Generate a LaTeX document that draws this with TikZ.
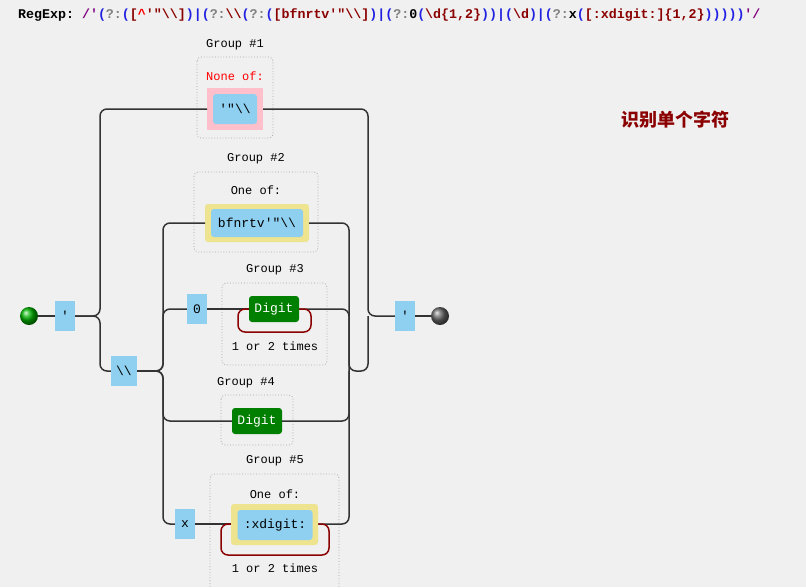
\documentclass[tikz,border=0pt]{standalone}
\usepackage{fontspec}
\setmonofont{Liberation Mono}
\newfontfamily\cjk{Noto Sans CJK SC}
\usetikzlibrary{shapes.misc}
\definecolor{lb}{HTML}{8FD0F0}
\definecolor{dg}{HTML}{007F00}
\definecolor{yl}{HTML}{EEE38E}
\definecolor{pk}{HTML}{FFC0CB}
\definecolor{dr}{HTML}{8B0000}
\definecolor{bg}{HTML}{F0F0F0}
\definecolor{pb}{HTML}{2020E0}
\begin{document}
\begin{tikzpicture}[x=1pt,y=-1pt,font=\ttfamily\fontsize{13}{15}\selectfont,
  lit/.style={fill=lb,minimum height=30pt,inner sep=1pt},
  term/.style={fill=dg,text=white,rounded corners=3pt,minimum height=26pt,inner sep=3pt},
  grp/.style={draw=gray!70,dotted,thick,rounded corners=4pt},
  lbl/.style={font=\ttfamily\fontsize{12}{14}\selectfont},
  wire/.style={draw=black!80,line width=1.5pt,rounded corners=7pt},
  loop/.style={draw=dr,line width=1.5pt,rounded corners=7pt}]
\fill[bg] (0,0) rectangle (806,587);
\useasboundingbox (0,0) rectangle (806,587);
% title
\node[anchor=west,inner sep=0,font=\ttfamily\bfseries\fontsize{13.3}{15}\selectfont] (title) at (18,15) {RegExp: \color{violet}/'\color{pb}(\color{gray}?:\color{pb}(\color{dr}[\color{red}\textasciicircum\color{dr}'"\textbackslash\textbackslash]\color{pb})|(\color{gray}?:\color{dr}\textbackslash\textbackslash\color{pb}(\color{gray}?:\color{pb}(\color{dr}[bfnrtv'"\textbackslash\textbackslash]\color{pb})|(\color{gray}?:\color{black}0\color{pb}(\color{dr}\textbackslash d\{1,2\}\color{pb}))|(\color{dr}\textbackslash d\color{pb})|(\color{gray}?:\color{black}x\color{pb}(\color{dr}[:xdigit:]\{1,2\}\color{pb})))))\color{violet}'/};
\node[text=dr,font=\cjk\bfseries\fontsize{18}{20}\selectfont] (cn) at (675,120) {识别单个字符};
% groups
\draw[grp] (197,57) rectangle (273,138);
\node[lbl] (g1) at (235,45) {Group \#1};
\node[lbl,text=red] (none) at (235,76) {None of:};
\fill[pk] (207,88) rectangle (263,130);
\node[lit,minimum width=44pt,rounded corners=3pt] (c1) at (235,109) {'"\textbackslash\textbackslash};
\draw[grp] (194,172) rectangle (318,252);
\node[lbl] (g2) at (256,159) {Group \#2};
\node[lbl] (o2) at (256,190) {One of:};
\fill[yl,rounded corners=3pt] (205,204) rectangle (309,242);
\node[lit,minimum width=92pt,minimum height=28pt,rounded corners=3pt] (c2) at (257,223) {bfnrtv'"\textbackslash\textbackslash};
\draw[grp] (222,283) rectangle (327,365);
\node[lbl] (g3) at (275,270) {Group \#3};
\node[lbl] (t3) at (275,346) {1 or 2 times};
\draw[grp] (221,395) rectangle (293,445);
\node[lbl] (g4) at (246,383) {Group \#4};
\draw[grp] (210,595) |- (339,474) -- (339,595);
\node[lbl] (g5) at (275,461) {Group \#5};
\node[lbl] (o5) at (275,494) {One of:};
\node[lbl] (t5) at (275,568) {1 or 2 times};
% literals
\shade[ball color=green!70!black] (29,316) circle (9);
\node[circle,minimum size=18pt,inner sep=0] (s) at (29,316) {};
\shade[ball color=black!60] (440,316) circle (9);
\node[circle,minimum size=18pt,inner sep=0] (e) at (440,316) {};
\node[lit,minimum width=20pt] (q1) at (65,316) {'};
\node[lit,minimum width=20pt] (q2) at (405,316) {'};
\node[lit,minimum width=26pt] (bs) at (124,371) {\textbackslash\textbackslash};
\node[lit,minimum width=20pt] (z) at (197,309) {0};
\node[lit,minimum width=20pt] (x) at (185,524) {x};
% wires
\draw[wire] (s) -- (q1);
\draw[wire] (q1.east) -- (100,316) -- (100,109) -- (207,109);
\draw[wire] (263,109) -- (368,109) -- (368,316) -- (q2.west);
\draw[wire] (q2) -- (e);
\draw[wire] (q1.east) -- (100,316) -- (100,371) -- (bs.west);
\draw[wire] (bs.east) -- (163,371) -- (163,223) -- (205,223);
\draw[wire] (bs.east) -- (163,371) -- (163,309) -- (z.west);
\draw[wire] (bs.east) -- (163,371) -- (163,421) -- (232,421);
\draw[wire] (bs.east) -- (163,371) -- (163,524) -- (x.west);
\draw[wire] (309,223) -- (349,223) -- (349,371) -- (368,371) -- (368,316);
\draw[wire] (299,309) -- (349,309) -- (349,371);
\draw[wire] (282,421) -- (349,421) -- (349,371);
\draw[wire] (318,524) -- (349,524) -- (349,371);
\draw[wire] (z.east) -- (249,309);
\draw[wire] (x.east) -- (231,524);
\draw[loop] (250,309) -- (238,309) -- (238,332) -- (311,332) -- (311,309) -- (298,309);
\draw[loop] (232,524) -- (221,524) -- (221,555) -- (329,555) -- (329,524) -- (317,524);
\node[term,minimum width=50pt] (d3) at (274,309) {Digit};
\node[term,minimum width=50pt] (d4) at (257,421) {Digit};
\fill[yl,rounded corners=3pt] (231,504) rectangle (318,545);
\node[lit,minimum width=75pt,rounded corners=3pt] (c5) at (275,525) {:xdigit:};
\end{tikzpicture}
\end{document}
